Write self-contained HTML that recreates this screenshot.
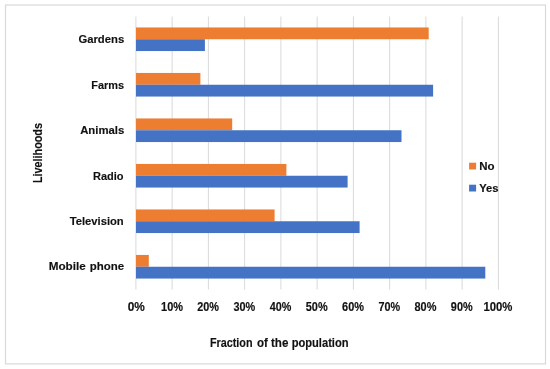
<!DOCTYPE html>
<html><head><meta charset="utf-8"><title>Chart</title>
<style>
html,body{margin:0;padding:0;background:#fff;}
svg{display:block;}
text{font-family:"Liberation Sans",sans-serif;font-weight:bold;fill:#111;stroke:#111;stroke-width:0.15;}
</style></head><body>
<svg width="550" height="369" viewBox="0 0 550 369">
<rect x="0" y="0" width="550" height="369" fill="#ffffff"/>
<rect x="5.5" y="5" width="540" height="358.9" fill="#ffffff" stroke="#d9d9d9" stroke-width="1.2"/>

<line x1="135.90" y1="16.5" x2="135.90" y2="289.5" stroke="#d9d9d9" stroke-width="1"/>
<line x1="172.15" y1="16.5" x2="172.15" y2="289.5" stroke="#d9d9d9" stroke-width="1"/>
<line x1="208.40" y1="16.5" x2="208.40" y2="289.5" stroke="#d9d9d9" stroke-width="1"/>
<line x1="244.65" y1="16.5" x2="244.65" y2="289.5" stroke="#d9d9d9" stroke-width="1"/>
<line x1="280.90" y1="16.5" x2="280.90" y2="289.5" stroke="#d9d9d9" stroke-width="1"/>
<line x1="317.15" y1="16.5" x2="317.15" y2="289.5" stroke="#d9d9d9" stroke-width="1"/>
<line x1="353.40" y1="16.5" x2="353.40" y2="289.5" stroke="#d9d9d9" stroke-width="1"/>
<line x1="389.65" y1="16.5" x2="389.65" y2="289.5" stroke="#d9d9d9" stroke-width="1"/>
<line x1="425.90" y1="16.5" x2="425.90" y2="289.5" stroke="#d9d9d9" stroke-width="1"/>
<line x1="462.15" y1="16.5" x2="462.15" y2="289.5" stroke="#d9d9d9" stroke-width="1"/>
<line x1="498.40" y1="16.5" x2="498.40" y2="289.5" stroke="#d9d9d9" stroke-width="1"/>
<rect x="136.0" y="27.45" width="292.70" height="11.8" fill="#ed7d31"/>
<rect x="136.0" y="39.25" width="68.90" height="11.8" fill="#4472c4"/>
<rect x="136.0" y="72.95" width="64.40" height="11.8" fill="#ed7d31"/>
<rect x="136.0" y="84.75" width="297.10" height="11.8" fill="#4472c4"/>
<rect x="136.0" y="118.45" width="96.20" height="11.8" fill="#ed7d31"/>
<rect x="136.0" y="130.25" width="265.50" height="11.8" fill="#4472c4"/>
<rect x="136.0" y="163.95" width="150.40" height="11.8" fill="#ed7d31"/>
<rect x="136.0" y="175.75" width="211.60" height="11.8" fill="#4472c4"/>
<rect x="136.0" y="209.45" width="138.60" height="11.8" fill="#ed7d31"/>
<rect x="136.0" y="221.25" width="223.60" height="11.8" fill="#4472c4"/>
<rect x="136.0" y="254.95" width="12.80" height="11.8" fill="#ed7d31"/>
<rect x="136.0" y="266.75" width="349.30" height="11.8" fill="#4472c4"/>
<text x="78.40" y="42.5" font-size="11.8" textLength="45.77" lengthAdjust="spacingAndGlyphs">Gardens</text>
<text x="91.27" y="88.7" font-size="11.8" textLength="32.81" lengthAdjust="spacingAndGlyphs">Farms</text>
<text x="80.16" y="134.0" font-size="11.8" textLength="44.06" lengthAdjust="spacingAndGlyphs">Animals</text>
<text x="93.01" y="179.6" font-size="11.8" textLength="30.61" lengthAdjust="spacingAndGlyphs">Radio</text>
<text x="69.66" y="225.3" font-size="11.8" textLength="54.06" lengthAdjust="spacingAndGlyphs">Television</text>
<text y="270.1" font-size="11.8"><tspan x="48.65" textLength="37.06" lengthAdjust="spacingAndGlyphs">Mobile</tspan> <tspan x="89.65" textLength="34.38" lengthAdjust="spacingAndGlyphs">phone</tspan></text>
<text x="127.64" y="310.8" font-size="12.0" textLength="17.13" lengthAdjust="spacingAndGlyphs">0%</text>
<text x="161.09" y="310.8" font-size="12.0" textLength="21.95" lengthAdjust="spacingAndGlyphs">10%</text>
<text x="197.17" y="310.8" font-size="12.0" textLength="21.74" lengthAdjust="spacingAndGlyphs">20%</text>
<text x="233.40" y="310.8" font-size="12.0" textLength="21.80" lengthAdjust="spacingAndGlyphs">30%</text>
<text x="269.77" y="310.8" font-size="12.0" textLength="21.58" lengthAdjust="spacingAndGlyphs">40%</text>
<text x="305.78" y="310.8" font-size="12.0" textLength="21.84" lengthAdjust="spacingAndGlyphs">50%</text>
<text x="342.11" y="310.8" font-size="12.0" textLength="21.90" lengthAdjust="spacingAndGlyphs">60%</text>
<text x="378.55" y="310.8" font-size="12.0" textLength="21.66" lengthAdjust="spacingAndGlyphs">70%</text>
<text x="414.56" y="310.8" font-size="12.0" textLength="21.88" lengthAdjust="spacingAndGlyphs">80%</text>
<text x="450.86" y="310.8" font-size="12.0" textLength="21.77" lengthAdjust="spacingAndGlyphs">90%</text>
<text x="483.45" y="310.8" font-size="12.0" textLength="29.02" lengthAdjust="spacingAndGlyphs">100%</text>
<text y="346.5" font-size="12.0"><tspan x="209.98" textLength="42.54" lengthAdjust="spacingAndGlyphs">Fraction</tspan> <tspan x="256.91" textLength="10.89" lengthAdjust="spacingAndGlyphs">of</tspan> <tspan x="271.00" textLength="17.42" lengthAdjust="spacingAndGlyphs">the</tspan> <tspan x="291.67" textLength="56.89" lengthAdjust="spacingAndGlyphs">population</tspan></text>
<text transform="translate(42.4,282.2) rotate(-90)" x="99.18" y="0" font-size="12.4" textLength="59.96" lengthAdjust="spacingAndGlyphs">Livelihoods</text>
<rect x="469.1" y="162.7" width="7" height="6.8" fill="#ed7d31"/>
<rect x="469.1" y="184.7" width="7" height="6.8" fill="#4472c4"/>
<text x="479.24" y="169.7" font-size="11.8" textLength="15.32" lengthAdjust="spacingAndGlyphs">No</text>
<text x="479.21" y="191.9" font-size="11.8" textLength="19.27" lengthAdjust="spacingAndGlyphs">Yes</text>
</svg></body></html>
